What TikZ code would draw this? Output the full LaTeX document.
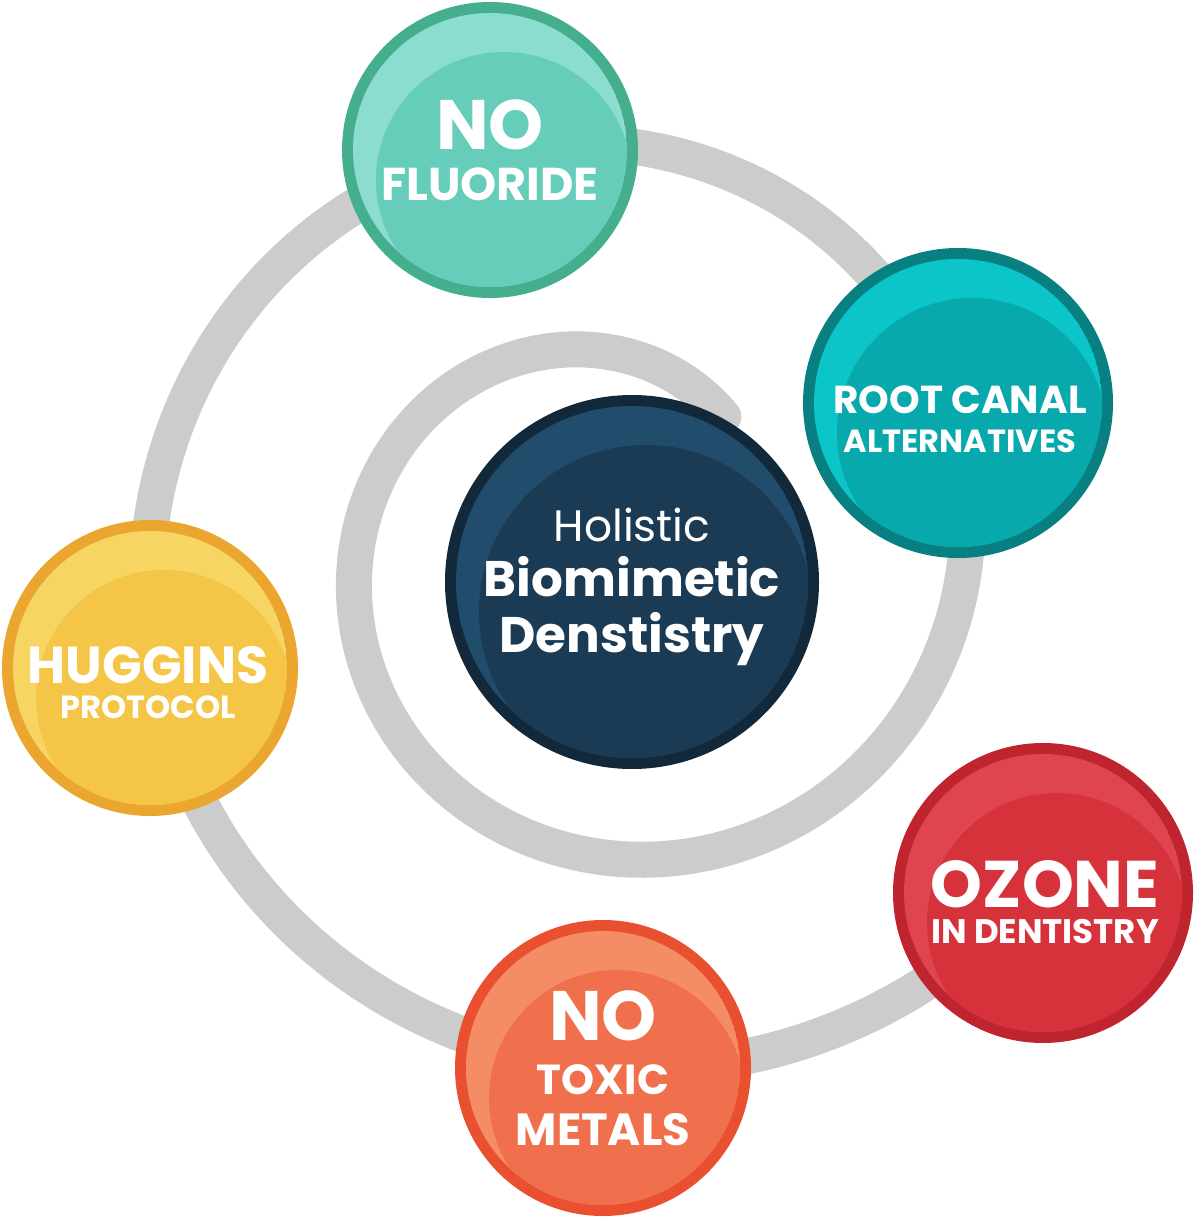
\documentclass[tikz,border=0pt]{standalone}
\usepackage{fontspec}
\setmainfont{Poppins}
\definecolor{ring}{HTML}{CCCCCC}
\definecolor{grA}{HTML}{45AE8F}\definecolor{gmA}{HTML}{66CDBB}\definecolor{glA}{HTML}{8BDDD0}
\definecolor{grB}{HTML}{087F80}\definecolor{gmB}{HTML}{07A9AC}\definecolor{glB}{HTML}{0BC5C8}
\definecolor{grC}{HTML}{12293B}\definecolor{gmC}{HTML}{1B3A54}\definecolor{glC}{HTML}{214C6B}
\definecolor{grD}{HTML}{EBA62F}\definecolor{gmD}{HTML}{F4C547}\definecolor{glD}{HTML}{F7D563}
\definecolor{grE}{HTML}{C0252F}\definecolor{gmE}{HTML}{D5323C}\definecolor{glE}{HTML}{E0454F}
\definecolor{grF}{HTML}{E9502F}\definecolor{gmF}{HTML}{F0704D}\definecolor{glF}{HTML}{F48C65}
\newcommand{\myball}[6]{%
  \fill[#4] (#1,#2) circle (#3);
  \begin{scope}
    \clip (#1,#2) circle ({#3-11});
    \fill[#6] (#1,#2) circle ({#3-11});
    \fill[#5] ({#1+14},{#2+30}) circle ({#3-20});
  \end{scope}}
\tikzset{lbl/.style={text=white,font=\bfseries,inner sep=0pt,anchor=base}}
\newcommand{\fs}[1]{\fontsize{#1}{#1}\selectfont}
\begin{document}
\begin{tikzpicture}[x=0.5pt,y=-0.5pt]
\useasboundingbox (0,0) rectangle (1194,1218);
\draw[ring,line width=18pt,line cap=round] plot[smooth,domain=-50:-684,samples=160,variable=\t]
  ({609+(201+0.5778*(-90-\t))*cos(\t)},{553+(201+0.5778*(-90-\t))*sin(\t)});
\myball{490}{150}{148}{grA}{gmA}{glA}
\myball{958}{403}{155}{grB}{gmB}{glB}
\myball{632}{582}{187}{grC}{gmC}{glC}
\myball{150}{668}{148}{grD}{gmD}{glD}
\myball{1043}{893}{150}{grE}{gmE}{glE}
\myball{603}{1068}{148}{grF}{gmF}{glF}
\node[lbl] (fl1) at (490,150) {\fs{35}NO};
\node[lbl] (fl2) at (490,201) {\fs{23}FLUORIDE};
\node[lbl] (rc1) at (960,414) {\fs{19.5}ROOT CANAL};
\node[lbl] (rc2) at (960,452) {\fs{16}ALTERNATIVES};
\node[lbl,font=\mdseries] (bd1) at (632,541) {\fs{22}Holistic};
\node[lbl] (bd2) at (632,596) {\fs{25}Biomimetic};
\node[lbl] (bd3) at (632,652) {\fs{25}Denstistry};
\node[lbl] (hp1) at (148,683) {\fs{26}HUGGINS};
\node[lbl] (hp2) at (148,718) {\fs{16}PROTOCOL};
\node[lbl] (oz1) at (1045,907) {\fs{33}OZONE};
\node[lbl] (oz2) at (1045,943) {\fs{17}IN DENTISTRY};
\node[lbl] (tm1) at (603,1040) {\fs{35}NO};
\node[lbl] (tm2) at (603,1094) {\fs{21}TOXIC};
\node[lbl] (tm3) at (603,1145) {\fs{22.5}METALS};
\end{tikzpicture}
\end{document}
